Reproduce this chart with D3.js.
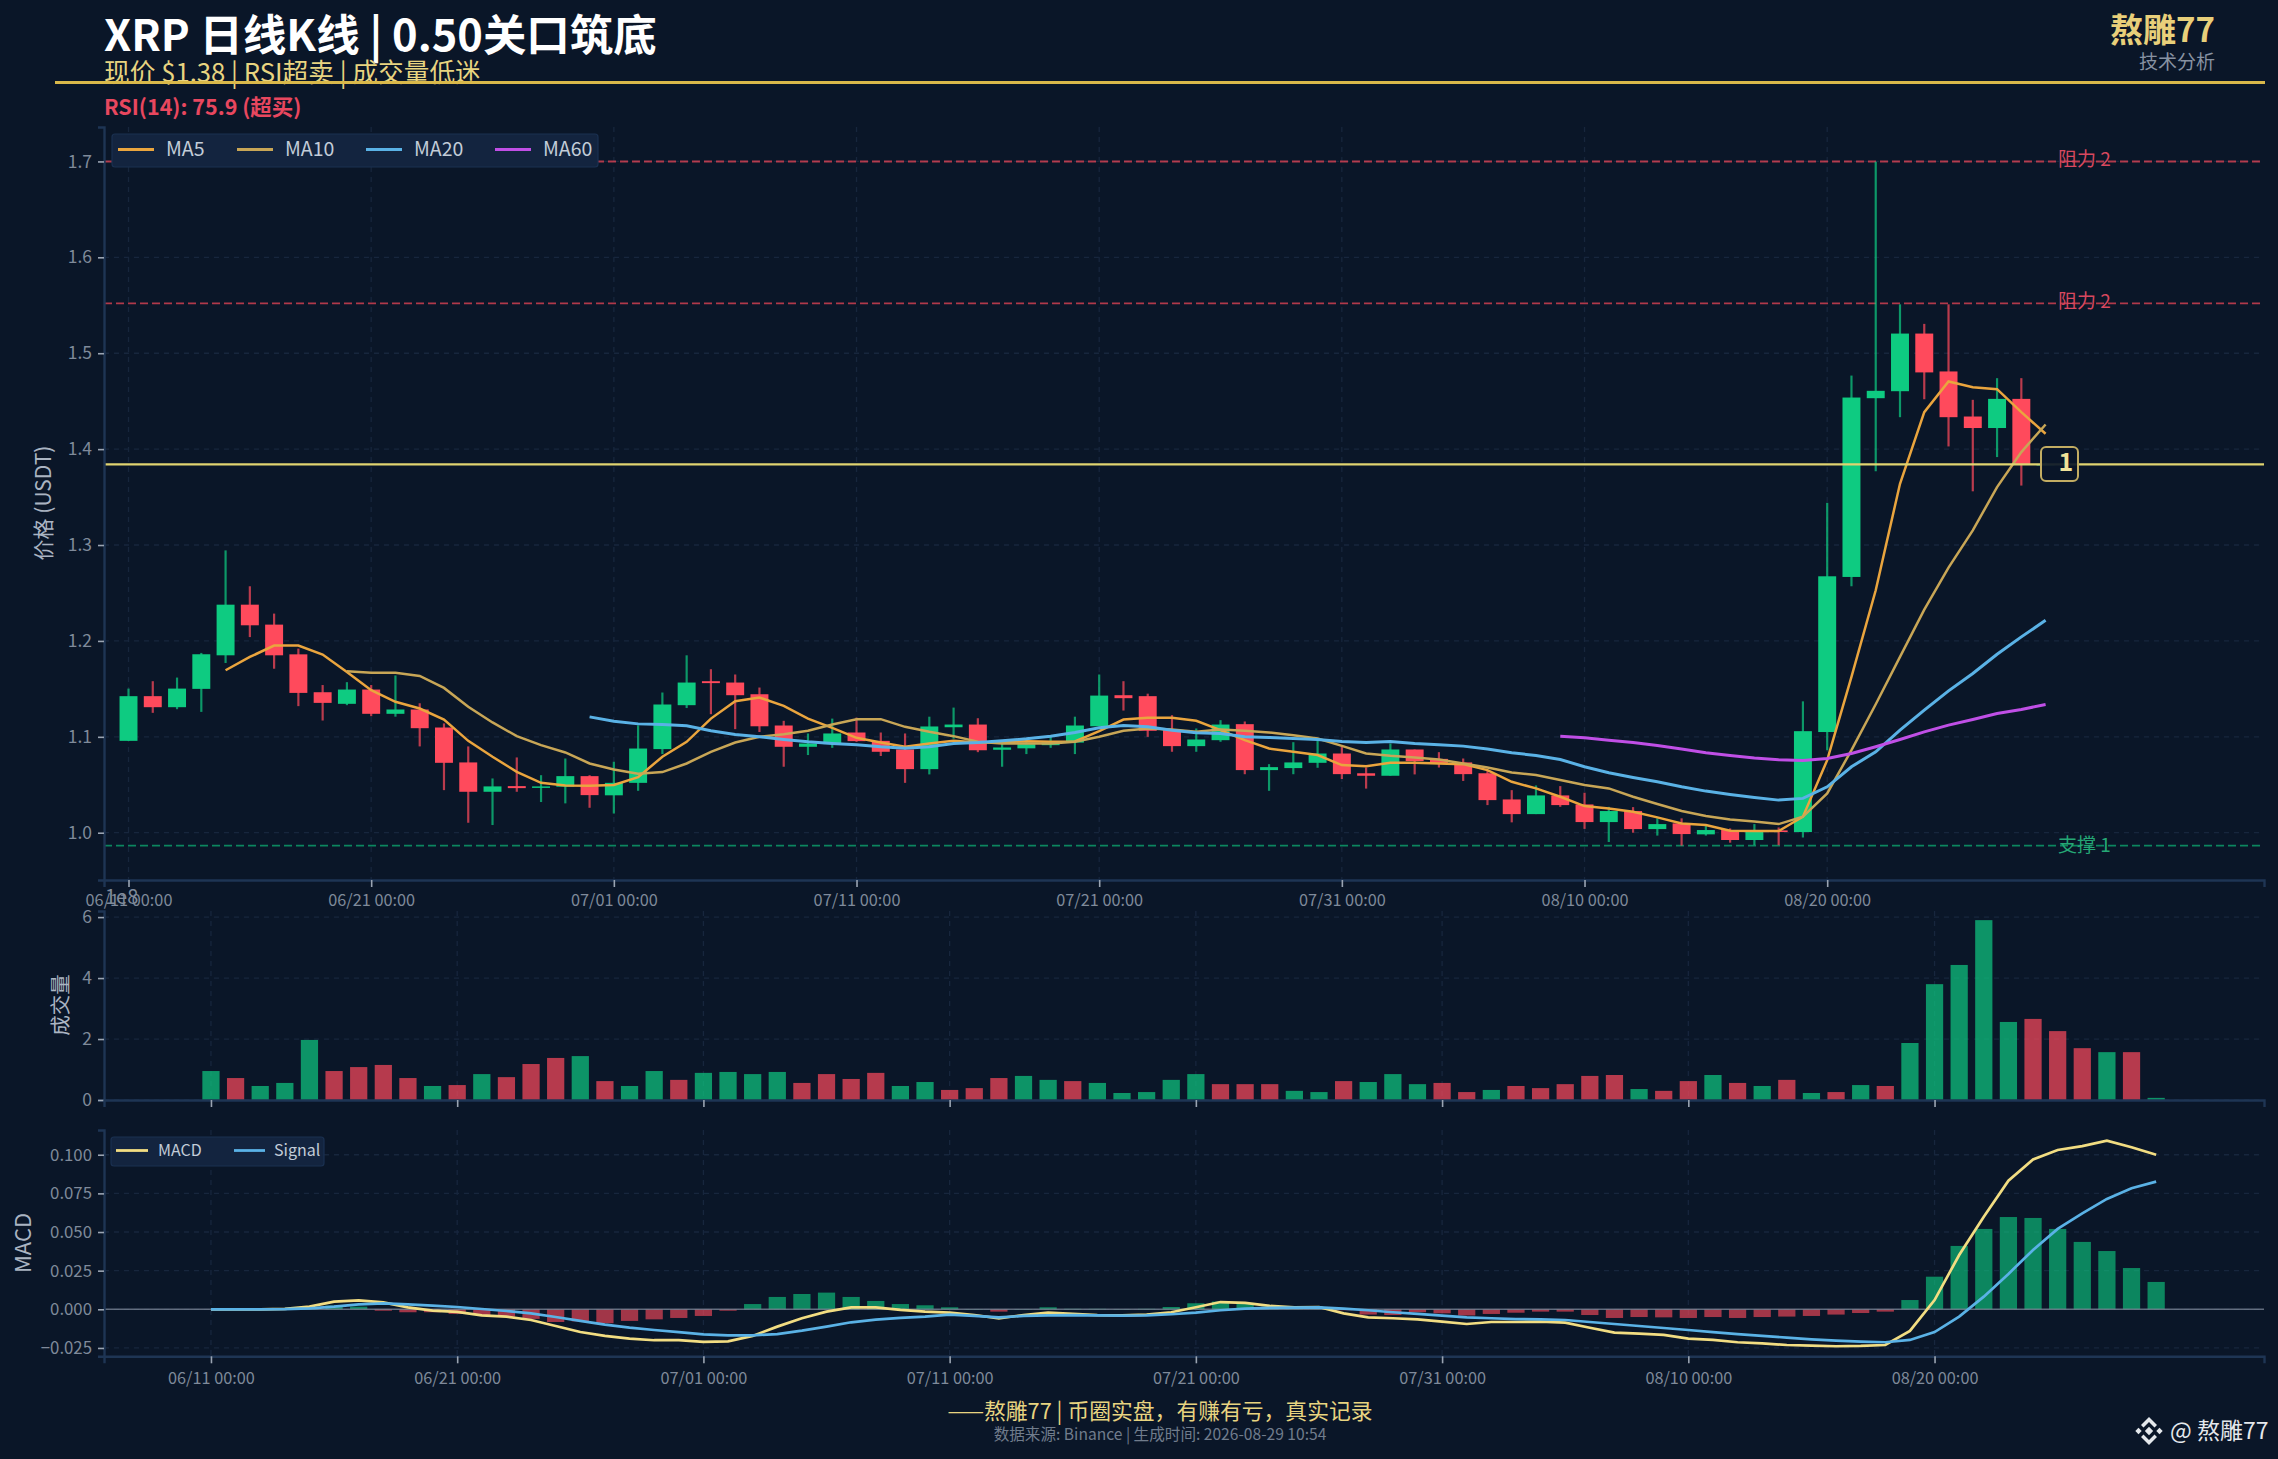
<!DOCTYPE html>
<html>
<head>
<meta charset="utf-8">
<script src="https://cdn.jsdelivr.net/npm/d3@7"></script>
<style>
html, body { margin: 0; padding: 0; background: #0a1628; }
svg { display: block; }
text { font-family: "Noto Sans CJK SC", "Noto Sans", sans-serif; }
</style>
</head>
<body>
<svg id="chart" width="2278" height="1459"></svg>
<script>
// day index 0 = 06/11, one entry per daily candle
var opens = [1.0958,1.1424,1.1309,1.15,1.185,1.2378,1.217,1.186,1.1465,1.1344,
    1.1493,1.124,1.1285,1.1097,1.0733,1.0427,1.0486,1.0469,1.048,1.059,
    1.039,1.052,1.0872,1.133,1.158,1.1566,1.1444,1.1118,1.0896,1.0924,
    1.1045,1.0958,1.0868,1.0663,1.11,1.1128,1.0865,1.088,1.0913,1.094,
    1.111,1.1434,1.1424,1.107,1.0903,1.0965,1.1132,1.0653,1.0674,1.0729,
    1.0826,1.062,1.0594,1.0868,1.077,1.0733,1.062,1.0347,1.0194,1.0389,
    1.0295,1.0111,1.0226,1.0038,1.0097,0.9983,1.0028,0.9924,1.0024,1.0007,
    1.105,1.2667,1.4531,1.4604,1.5205,1.481,1.434,1.422,1.4524,1.3837];
var closes = [1.1424,1.1309,1.1503,1.1861,1.2378,1.2163,1.185,1.1458,1.1354,1.1493,
    1.124,1.1285,1.109,1.0729,1.0427,1.0483,1.0465,1.0483,1.059,1.0392,
    1.052,1.0878,1.1337,1.1566,1.156,1.1434,1.111,1.0896,1.093,1.1035,
    1.0955,1.0844,1.0663,1.1108,1.1128,1.086,1.0889,1.0924,1.0948,1.1118,
    1.143,1.1403,1.1063,1.0903,1.0972,1.1128,1.0653,1.0684,1.0733,1.0826,
    1.0611,1.0594,1.0868,1.0747,1.0722,1.0611,1.034,1.0194,1.0389,1.0288,
    1.0111,1.0226,1.0038,1.009,0.9986,1.0028,0.9924,1.0017,1.0007,1.1059,
    1.2674,1.4538,1.4608,1.5205,1.48,1.4333,1.422,1.4524,1.3837,1.3845];
var highs = [1.1503,1.158,1.1618,1.1875,1.2944,1.257,1.2285,1.192,1.154,1.157,
    1.154,1.164,1.135,1.114,1.09,1.0566,1.0785,1.06,1.0774,1.06,
    1.074,1.112,1.1462,1.185,1.1705,1.165,1.1514,1.1167,1.1035,1.119,
    1.12,1.1045,1.1035,1.121,1.1305,1.1194,1.093,1.0965,1.1,1.121,
    1.165,1.158,1.145,1.1226,1.1087,1.1174,1.116,1.0715,1.0944,1.0965,
    1.0896,1.068,1.093,1.0868,1.084,1.0774,1.065,1.0444,1.0493,1.0486,
    1.0417,1.027,1.0267,1.015,1.015,1.007,1.0045,1.009,1.0055,1.137,
    1.344,1.4767,1.6997,1.551,1.5306,1.551,1.4514,1.474,1.474,1.386];
var lows = [1.0958,1.125,1.1288,1.126,1.177,1.204,1.171,1.132,1.117,1.133,
    1.1215,1.121,1.09,1.0444,1.0104,1.008,1.0427,1.032,1.0306,1.026,
    1.02,1.0437,1.082,1.13,1.1236,1.108,1.105,1.0688,1.081,1.0885,
    1.0948,1.08,1.052,1.0608,1.098,1.084,1.0688,1.082,1.0885,1.082,
    1.111,1.1274,1.1,1.0844,1.0844,1.0948,1.061,1.0437,1.061,1.0677,
    1.056,1.046,1.0594,1.0608,1.068,1.054,1.0288,1.0108,1.0194,1.027,
    1.004,0.9903,1.0,0.997,0.9865,0.997,0.9896,0.987,0.987,0.995,
    1.086,1.257,1.377,1.4333,1.452,1.4028,1.356,1.3917,1.362,1.383];

var ma5 = [null,null,null,null,1.1694,1.1833,1.1951,1.1951,1.1858,1.1677,
    1.1486,1.1365,1.1295,1.118,1.0958,1.0792,1.0635,1.052,1.0493,1.049,
    1.0497,1.058,1.0792,1.0948,1.119,1.1372,1.141,1.1323,1.119,1.1094,
    1.099,1.0941,1.0896,1.093,1.0958,1.0941,1.0941,1.0955,1.0948,1.0951,
    1.1059,1.118,1.12,1.12,1.1167,1.107,1.0965,1.0878,1.0844,1.081,
    1.0705,1.0694,1.0729,1.0729,1.0722,1.0715,1.0653,1.0531,1.0462,1.0375,
    1.0278,1.0253,1.0219,1.016,1.0097,1.008,1.002,1.0017,1.0017,1.0167,
    1.0757,1.1625,1.2528,1.3639,1.4385,1.4705,1.4646,1.4625,1.4385,1.416];
var ma10 = [null,null,null,null,null,null,null,null,null,1.1684,
    1.1667,1.1667,1.1635,1.151,1.1313,1.115,1.1007,1.0913,1.0837,1.0722,
    1.066,1.0615,1.0632,1.0722,1.0844,1.0941,1.1,1.1028,1.1063,1.1128,
    1.1184,1.1184,1.1104,1.1052,1.1007,1.0948,1.093,1.093,1.093,1.0948,
    1.1,1.1063,1.1087,1.1076,1.1052,1.1076,1.1063,1.1045,1.1017,1.0983,
    1.0906,1.0826,1.0802,1.0785,1.0764,1.0722,1.0681,1.0628,1.0601,1.0549,
    1.0497,1.0462,1.0375,1.0299,1.0226,1.0174,1.0139,1.0118,1.009,1.0167,
    1.041,1.0861,1.134,1.1833,1.2326,1.2764,1.3153,1.3604,1.3969,1.4257];
var ma20 = [null,null,null,null,null,null,null,null,null,null,
    null,null,null,null,null,null,null,null,null,1.1208,
    1.1163,1.1135,1.1128,1.1115,1.1063,1.1024,1.1,1.0972,1.0948,1.093,
    1.0917,1.0896,1.0882,1.0896,1.093,1.0941,1.0958,1.0979,1.1007,1.1045,
    1.1094,1.1118,1.1104,1.1069,1.1042,1.1035,1.1,1.0993,1.0983,1.0972,
    1.0951,1.0941,1.0951,1.0931,1.0917,1.0903,1.0872,1.0833,1.0806,1.0764,
    1.0688,1.0625,1.0576,1.0531,1.0479,1.0434,1.0399,1.0368,1.034,1.0358,
    1.0479,1.0688,1.0844,1.1069,1.1278,1.1479,1.166,1.1861,1.2042,1.2215];
var ma60 = [null,null,null,null,null,null,null,null,null,null,
    null,null,null,null,null,null,null,null,null,null,
    null,null,null,null,null,null,null,null,null,null,
    null,null,null,null,null,null,null,null,null,null,
    null,null,null,null,null,null,null,null,null,null,
    null,null,null,null,null,null,null,null,null,1.1007,
    1.099,1.0965,1.0941,1.091,1.0872,1.0833,1.0806,1.0778,1.076,1.0752,
    1.0774,1.0826,1.0896,1.0972,1.1052,1.1122,1.1181,1.1243,1.1285,1.1337];

// 1e8 units
var volumes = [0.95,0.72,0.46,0.56,1.97,0.95,1.08,1.15,0.72,0.46,
    0.49,0.85,0.75,1.18,1.38,1.44,0.62,0.46,0.95,0.66,
    0.89,0.92,0.85,0.92,0.56,0.85,0.69,0.89,0.46,0.59,
    0.33,0.39,0.72,0.79,0.66,0.62,0.56,0.23,0.26,0.66,
    0.85,0.52,0.52,0.52,0.30,0.26,0.62,0.59,0.85,0.52,
    0.56,0.26,0.33,0.46,0.39,0.52,0.79,0.82,0.36,0.30,
    0.62,0.82,0.56,0.46,0.66,0.23,0.26,0.49,0.46,1.87,
    3.80,4.43,5.90,2.56,2.66,2.26,1.70,1.57,1.57,0.07];

var macd = [0,0,0,0.0003,0.0017,0.005,0.0058,0.0045,0.0013,-0.0009,
    -0.0017,-0.0039,-0.0047,-0.0069,-0.0108,-0.0147,-0.0172,-0.019,-0.02,-0.02,
    -0.0211,-0.0207,-0.0172,-0.0112,-0.0058,-0.0015,0.0013,0.0013,-0.0004,-0.0015,
    -0.0022,-0.0037,-0.0058,-0.0037,-0.0022,-0.003,-0.0037,-0.0039,-0.0034,-0.0019,
    0.0013,0.0047,0.0041,0.0022,0.0013,0.0015,-0.0026,-0.0052,-0.0058,-0.0065,
    -0.008,-0.0095,-0.0082,-0.0082,-0.008,-0.0086,-0.0119,-0.0151,-0.0157,-0.0166,
    -0.019,-0.0198,-0.0213,-0.022,-0.0231,-0.0235,-0.0239,-0.0237,-0.0231,-0.014,
    0.006,0.0351,0.0599,0.0832,0.097,0.1031,0.1056,0.1091,0.1048,0.1];
var signal = [0,0,0,0.0001,0.0006,0.0017,0.0032,0.0039,0.0032,0.0024,
    0.0015,0.0002,-0.0011,-0.0026,-0.005,-0.0075,-0.0099,-0.0119,-0.0134,-0.0147,
    -0.0162,-0.0168,-0.0168,-0.016,-0.0138,-0.0112,-0.0084,-0.0067,-0.0056,-0.0047,
    -0.0034,-0.0043,-0.0052,-0.0043,-0.0039,-0.0037,-0.0039,-0.0041,-0.0039,-0.0032,
    -0.0022,-0.0006,0.0004,0.0009,0.0011,0.0013,0.0004,-0.0006,-0.0019,-0.003,
    -0.0041,-0.0052,-0.0058,-0.0063,-0.0065,-0.0069,-0.0082,-0.0095,-0.0108,-0.0121,
    -0.0134,-0.0147,-0.016,-0.0172,-0.0183,-0.0194,-0.0203,-0.0209,-0.0213,-0.0198,
    -0.0147,-0.0047,0.0082,0.0229,0.0384,0.052,0.0621,0.0714,0.0783,0.0826];
var histogram = [0,0,0,0.0002,0.0007,0.0024,0.0017,-0.0009,-0.0019,-0.0019,
    -0.003,-0.0037,-0.0047,-0.0062,-0.0082,-0.0078,-0.009,-0.0075,-0.0065,-0.0056,
    -0.0043,-0.0009,0.0034,0.008,0.0099,0.0108,0.008,0.0054,0.0034,0.0026,
    0.0013,0.0002,-0.0015,0.0002,0.0013,0.0003,0.0003,0.0002,0.0003,0.0015,
    0.0039,0.005,0.0041,0.0017,0.0009,0.0006,-0.0006,-0.0034,-0.0037,-0.0019,
    -0.0026,-0.004,-0.003,-0.0022,-0.0015,-0.0015,-0.0037,-0.0056,-0.005,-0.0052,
    -0.0056,-0.005,-0.0056,-0.005,-0.0047,-0.0043,-0.0034,-0.0024,-0.0015,0.006,
    0.0211,0.041,0.052,0.0597,0.0591,0.052,0.0436,0.0377,0.0267,0.0177];

var dateTicks = [0, 10, 20, 30, 40, 50, 60, 70];
var dateLabels = ["06/11 00:00", "06/21 00:00", "07/01 00:00", "07/11 00:00",
    "07/21 00:00", "07/31 00:00", "08/10 00:00", "08/20 00:00"];
var priceTicks = [1.0, 1.1, 1.2, 1.3, 1.4, 1.5, 1.6, 1.7];
var volumeTicks = [0, 2, 4, 6];
var macdTicks = [-0.025, 0, 0.025, 0.05, 0.075, 0.1];

var resistanceLevels = [1.7, 1.552];
var supportLevel = 0.9865;
var currentPrice = 1.384;

const bg = "#0a1628",
    upColor = "#0ecb81",
    downColor = "#ff4a5c",
    spineColor = "#1e3554",
    gridColor = "#17263d",
    tickColor = "#7f8a9a",
    gold = "#d9b84a",
    paleGold = "#e8d480";
const maColors = {ma5: "#eaa53e", ma10: "#c8a656", ma20: "#5ab2e6", ma60: "#c04fe6"};

var svg = d3.select("#chart");
svg.append("rect").attr("width", 2278).attr("height", 1459).attr("fill", bg);

var left = 104, right = 2264;

var xMain = d3.scaleLinear().domain([-1.01, 88]).range([left, right]),
    xLower = d3.scaleLinear().domain([-4.344, 83.38]).range([left, right]);
var yPrice = d3.scaleLinear().domain([0.9507, 1.7359]).range([880, 127]),
    yVolume = d3.scaleLinear().domain([0, 6.2]).range([1100, 911]),
    yMacd = d3.scaleLinear().domain([-0.0304, 0.116]).range([1356.3, 1130]);

function drawGrid(x, y, xTicks, yTicks) {
    var g = svg.append("g")
        .attr("stroke", gridColor)
        .attr("stroke-width", 1.3)
        .attr("stroke-dasharray", "5 5");
    g.selectAll(".h").data(yTicks).enter().append("line")
        .attr("x1", left).attr("x2", right)
        .attr("y1", function(d) { return y(d); })
        .attr("y2", function(d) { return y(d); });
    g.selectAll(".v").data(xTicks).enter().append("line")
        .attr("x1", function(d) { return x(d); })
        .attr("x2", function(d) { return x(d); })
        .attr("y1", y.range()[1]).attr("y2", y.range()[0]);
}

function drawAxes(x, y, yTicks, yFormat, datePadding, yFontSize) {
    var gy = svg.append("g")
        .attr("transform", "translate(" + left + ",0)")
        .call(d3.axisLeft(y).tickValues(yTicks).tickFormat(yFormat).tickSize(6).tickPadding(6));
    var gx = svg.append("g")
        .attr("transform", "translate(0," + y.range()[0] + ")")
        .call(d3.axisBottom(x).tickValues(dateTicks).tickSize(7).tickPadding(datePadding || 6)
            .tickFormat(function(d, i) {
                return datePadding ? dateLabels[i] : "";
            }));
    [gx, gy].forEach(function(a) {
        a.select(".domain").attr("stroke", spineColor).attr("stroke-width", 2.4);
        a.selectAll(".tick line").attr("stroke", "#9aa4b2").attr("stroke-width", 1.6);
        a.selectAll("text").attr("fill", tickColor).style("font-size", "16.3px");
    });
    gy.selectAll("text").style("font-size", yFontSize + "px");
}

function line(values, x, y) {
    return d3.line()
        .defined(function(d) { return d != null; })
        .x(function(d, i) { return x(i); })
        .y(function(d) { return y(d); })(values);
}

function drawLegend(x0, y0, w, h, items, fontSize) {
    var g = svg.append("g");
    g.append("rect").attr("x", x0).attr("y", y0).attr("width", w).attr("height", h).attr("rx", 3)
        .attr("fill", "#13243f").attr("stroke", "#1a3050").attr("stroke-width", 1.2);
    items.forEach(function(it) {
        g.append("line").attr("x1", it.x1).attr("x2", it.x2)
            .attr("y1", y0 + h / 2 - 1).attr("y2", y0 + h / 2 - 1)
            .attr("stroke", it.color).attr("stroke-width", 2.8);
        g.append("text").attr("x", it.tx).attr("y", y0 + h / 2 - 1).attr("dy", "0.35em")
            .attr("fill", "#c2ccd8").style("font-size", fontSize + "px").text(it.label);
    });
}

function label(x, y, str, size, color, anchor, weight) {
    return svg.append("text")
        .attr("x", x).attr("y", y)
        .attr("fill", color)
        .attr("text-anchor", anchor || "start")
        .attr("font-weight", weight || 400)
        .style("font-size", size + "px")
        .text(str);
}

// ---- price panel
drawGrid(xMain, yPrice, dateTicks, priceTicks);

resistanceLevels.forEach(function(level) {
    svg.append("line").attr("x1", left).attr("x2", right)
        .attr("y1", yPrice(level)).attr("y2", yPrice(level))
        .attr("stroke", downColor).attr("stroke-opacity", 0.68)
        .attr("stroke-width", 1.9).attr("stroke-dasharray", "8 4");
});
svg.append("line").attr("x1", left).attr("x2", right)
    .attr("y1", yPrice(supportLevel)).attr("y2", yPrice(supportLevel))
    .attr("stroke", upColor).attr("stroke-opacity", 0.62)
    .attr("stroke-width", 1.9).attr("stroke-dasharray", "8 4");

var candles = d3.range(opens.length);
var bodyW = xMain(0.74) - xMain(0);

svg.append("g").selectAll("line").data(candles).enter().append("line")
    .attr("x1", function(i) { return xMain(i); })
    .attr("x2", function(i) { return xMain(i); })
    .attr("y1", function(i) { return yPrice(highs[i]); })
    .attr("y2", function(i) { return yPrice(lows[i]); })
    .attr("stroke", function(i) { return closes[i] >= opens[i] ? upColor : downColor; })
    .attr("stroke-opacity", 0.72)
    .attr("stroke-width", 2.2);

svg.append("g").selectAll("rect").data(candles).enter().append("rect")
    .attr("x", function(i) { return xMain(i) - bodyW / 2; })
    .attr("y", function(i) { return yPrice(Math.max(opens[i], closes[i])); })
    .attr("width", bodyW)
    .attr("height", function(i) { return Math.max(1.5, Math.abs(yPrice(opens[i]) - yPrice(closes[i]))); })
    .attr("fill", function(i) { return closes[i] >= opens[i] ? upColor : downColor; });

[["ma5", ma5], ["ma10", ma10], ["ma20", ma20], ["ma60", ma60]].forEach(function(s) {
    svg.append("path").attr("d", line(s[1], xMain, yPrice))
        .attr("fill", "none")
        .attr("stroke", maColors[s[0]])
        .attr("stroke-width", s[0] == "ma20" || s[0] == "ma60" ? 3 : 2.5);
});

svg.append("line").attr("x1", left).attr("x2", right)
    .attr("y1", yPrice(currentPrice)).attr("y2", yPrice(currentPrice))
    .attr("stroke", "#e0d470").attr("stroke-width", 2.2);

svg.append("rect").attr("x", 2041).attr("y", 447).attr("width", 37).attr("height", 34).attr("rx", 5)
    .attr("fill", bg).attr("fill-opacity", 0.92)
    .attr("stroke", "#c2ac62").attr("stroke-width", 2);
label(2066, 471, "1", 25, "#f0e29a", "middle", 700);

label(2058, yPrice(1.7) + 5, "阻力 2", 19, "#d8485f");
label(2058, yPrice(1.552) + 5, "阻力 2", 19, "#d8485f");
label(2058, yPrice(supportLevel) + 6, "支撑 1", 19, "#25a876");

drawAxes(xMain, yPrice, priceTicks, d3.format(".1f"), 7, 17.5);

drawLegend(112, 134, 486, 33, [
    {x1: 118, x2: 154, tx: 166, color: maColors.ma5, label: "MA5"},
    {x1: 237, x2: 273, tx: 285, color: maColors.ma10, label: "MA10"},
    {x1: 366, x2: 402, tx: 414, color: maColors.ma20, label: "MA20"},
    {x1: 495, x2: 531, tx: 543, color: maColors.ma60, label: "MA60"}
], 19.5);

// ---- volume panel
drawGrid(xLower, yVolume, dateTicks, volumeTicks);

var barW = xLower(0.7) - xLower(0);
svg.append("g").selectAll("rect").data(volumes).enter().append("rect")
    .attr("x", function(d, i) { return xLower(i) - barW / 2; })
    .attr("y", function(d) { return yVolume(d); })
    .attr("width", barW)
    .attr("height", function(d) { return yVolume(0) - yVolume(d); })
    .attr("fill", function(d, i) { return closes[i] >= opens[i] ? upColor : downColor; })
    .attr("fill-opacity", 0.7);

drawAxes(xLower, yVolume, volumeTicks, d3.format("d"), 0, 17.5);
label(105, 904, "1e8", 20, "#7f8a9a");

// ---- macd panel
drawGrid(xLower, yMacd, dateTicks, macdTicks);

svg.append("g").selectAll("rect").data(histogram).enter().append("rect")
    .attr("x", function(d, i) { return xLower(i) - barW / 2; })
    .attr("y", function(d) { return yMacd(Math.max(d, 0)); })
    .attr("width", barW)
    .attr("height", function(d) { return Math.abs(yMacd(d) - yMacd(0)); })
    .attr("fill", function(d) { return d >= 0 ? upColor : downColor; })
    .attr("fill-opacity", 0.62);

svg.append("line").attr("x1", left).attr("x2", right)
    .attr("y1", yMacd(0)).attr("y2", yMacd(0))
    .attr("stroke", "#7f8a9a").attr("stroke-opacity", 0.75).attr("stroke-width", 1.4);

svg.append("path").attr("d", line(macd, xLower, yMacd))
    .attr("fill", "none").attr("stroke", "#f2dd82").attr("stroke-width", 2.7);
svg.append("path").attr("d", line(signal, xLower, yMacd))
    .attr("fill", "none").attr("stroke", "#5ab2e6").attr("stroke-width", 2.7);

drawAxes(xLower, yMacd, macdTicks, d3.format(".3f"), 9, 16.8);

drawLegend(111, 1137, 213, 29, [
    {x1: 116, x2: 148, tx: 158, color: "#f2dd82", label: "MACD"},
    {x1: 234, x2: 265, tx: 274, color: "#5ab2e6", label: "Signal"}
], 16);

// ---- axis titles
svg.append("text").attr("transform", "translate(51,503) rotate(-90)")
    .attr("text-anchor", "middle").attr("fill", "#aab4c2")
    .style("font-size", "21px").text("价格 (USDT)");
svg.append("text").attr("transform", "translate(68,1005) rotate(-90)")
    .attr("text-anchor", "middle").attr("fill", "#aab4c2")
    .style("font-size", "20.5px").text("成交量");
svg.append("text").attr("transform", "translate(31,1243) rotate(-90)")
    .attr("text-anchor", "middle").attr("fill", "#aab4c2")
    .style("font-size", "22px").text("MACD");

// ---- header
label(104, 51, "XRP 日线K线 | 0.50关口筑底", 43.4, "#ffffff", "start", 700);
label(104, 82, "现价 $1.38 | RSI超卖 | 成交量低迷", 25.7, paleGold);
svg.append("line").attr("x1", 55).attr("x2", right + 1).attr("y1", 82.5).attr("y2", 82.5)
    .attr("stroke", gold).attr("stroke-width", 3);
label(104, 115, "RSI(14): 75.9 (超买)", 21.5, "#e8475f", "start", 700);

label(2215, 42, "熬雕77", 33, "#e8cf7a", "end", 700);
label(2215, 69, "技术分析", 19, "#8792a2", "end");

// ---- footer
label(1160, 1419, "——熬雕77 | 币圈实盘，有赚有亏，真实记录", 21.8, paleGold, "middle");
label(1160, 1440, "数据来源: Binance | 生成时间: 2026-08-29 10:54", 15.6, "#707c8c", "middle");

var logo = svg.append("g").attr("transform", "translate(2149,1431)").attr("fill", "#e4e8ec");
[[0, 0, 4.2], [-10.5, 0, 3.2], [10.5, 0, 3.2]].forEach(function(p) {
    logo.append("path").attr("d", "M" + (p[0] - p[2]) + "," + p[1] + "L" + p[0] + "," + (p[1] - p[2]) +
        "L" + (p[0] + p[2]) + "," + p[1] + "L" + p[0] + "," + (p[1] + p[2]) + "Z");
});
logo.append("path").attr("d", "M-8,-6 L0,-14 L8,-6 L5.5,-3.5 L0,-9 L-5.5,-3.5 Z");
logo.append("path").attr("d", "M-8,6 L0,14 L8,6 L5.5,3.5 L0,9 L-5.5,3.5 Z");
label(2170, 1439, "@ 熬雕77", 23, "#e4e8ec");
</script>
</body>
</html>
